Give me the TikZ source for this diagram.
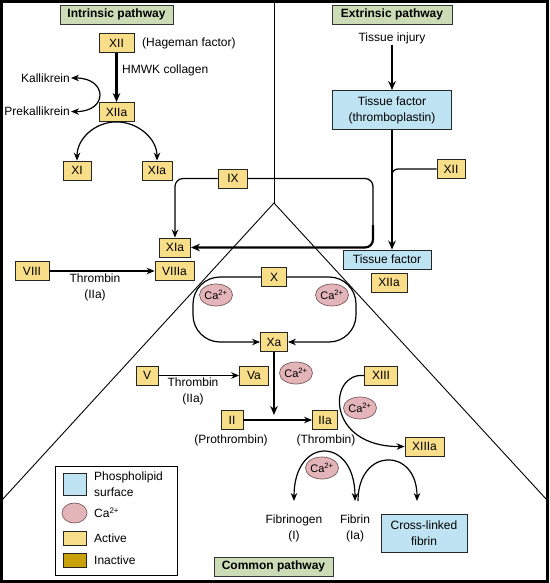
\documentclass[tikz,border=0pt]{standalone}
\usepackage{fontspec}
\setmainfont{Liberation Sans}
\usetikzlibrary{arrows.meta,shapes.geometric,calc}
\definecolor{facY}{HTML}{F9DE8A}
\definecolor{blueF}{HTML}{BEE3F3}
\definecolor{greenH}{HTML}{CCDCB6}
\definecolor{caF}{HTML}{E3B5B8}
\definecolor{caB}{HTML}{7A5A5A}
\definecolor{inact}{HTML}{C9A10A}
\begin{document}
\begin{tikzpicture}[x=1pt,y=-1pt,font=\fontsize{12}{16}\selectfont,
  fac/.style={draw=black!85,line width=0.8pt,fill=facY,minimum height=19pt,inner sep=0pt},
  bluebox/.style={draw=black!85,line width=0.8pt,fill=blueF,inner sep=0pt,align=center},
  hdr/.style={draw=black!80,line width=0.8pt,fill=greenH,minimum height=19pt,inner sep=0pt,font=\fontsize{12}{14}\selectfont\bfseries},
  ca/.style={ellipse,draw=caB,line width=0.7pt,fill=caF,minimum width=31pt,minimum height=22pt,inner sep=0pt,font=\fontsize{11}{12}\selectfont},
  lbl/.style={inner sep=1pt,align=center},
  arr/.style={-{Stealth[length=8pt,width=6.5pt]},line width=1.2pt},
  darr/.style={{Stealth[length=8pt,width=6.5pt]}-{Stealth[length=8pt,width=6.5pt]},line width=1.2pt},
  tarr/.style={-{Stealth[length=9pt,width=7.5pt]},line width=2.2pt}]
\useasboundingbox (0,0) rectangle (549,583);

% frame and pathway separators
\draw[line width=3pt] (1.5,1.5) rectangle (547.5,581.5);
\coordinate (apex) at (274,203);
\coordinate (top) at (274,2);
\coordinate (lb) at (2,500);
\coordinate (rb) at (547,500);
\draw[line width=0.9pt] (top) -- (apex);
\draw[line width=0.9pt] (lb) -- (apex) -- (rb);

% headers
\node[hdr,minimum width=113pt] (hint) at (116.5,14.5) {Intrinsic pathway};
\node[hdr,minimum width=120pt] (hext) at (392,14.5) {Extrinsic pathway};
\node[hdr,minimum width=119pt] (hcom) at (273.5,566.5) {Common pathway};

% intrinsic
\node[fac,minimum width=35pt] (xii) at (116.5,43) {XII};
\node[lbl,anchor=west] (hag) at (141,43) {(Hageman factor)};
\node[fac,minimum width=35pt] (xiia) at (116.5,112) {XIIa};
\node[lbl,anchor=west] (hmwk) at (121,70) {HMWK collagen};
\node[lbl,anchor=east] (kal) at (71,78) {Kallikrein};
\node[lbl,anchor=east] (pkal) at (71,111.5) {Prekallikrein};
\node[fac,minimum width=28pt] (xi) at (77,170.5) {XI};
\node[fac,minimum width=30pt] (xia) at (157,170.5) {XIa};
\node[fac,minimum width=29pt] (ix) at (233,178.5) {IX};
\node[fac,minimum width=31pt] (xia2) at (175,247.5) {XIa};
\node[fac,minimum width=39pt] (viiia) at (174.5,271) {VIIIa};
\node[fac,minimum width=34pt] (viii) at (32,271) {VIII};
\node[lbl] (thr1) at (95,287) {Thrombin\\(IIa)};

\draw[tarr] (xii) -- (xiia);
\draw[darr] (kal.east) .. controls (108,78) and (108,112) .. (pkal.east);
\draw[arr] (xiia.south) .. controls (94.5,122) and (77,139) .. (xi.north);
\draw[arr] (xiia.south) .. controls (138.5,122) and (157,139) .. (xia.north);
\draw[arr,rounded corners=8pt] (ix.west) -| (xia2.north);
\coordinate (ixr) at (373,178.5);
\coordinate (ixm) at (373,225);
\draw[line width=1.3pt,rounded corners=8pt] (ix.east) -- (ixr) -- (ixm);
\draw[tarr,rounded corners=8pt] (ixm) -- (373,247.5) -- (xia2.east);
\draw[arr] (viii) -- (viiia);

% extrinsic
\node[lbl] (tinj) at (392,38) {Tissue injury};
\node[bluebox,minimum width=119pt,minimum height=39pt] (tf) at (392,110) {Tissue factor\\(thromboplastin)};
\node[fac,minimum width=28pt] (xii2) at (451,169) {XII};
\node[bluebox,minimum width=88pt,minimum height=19pt] (tf2) at (387,259.5) {Tissue factor};
\node[fac,minimum width=36pt] (xiia2) at (389,282.5) {XIIa};
\draw[tarr] (tinj) -- (tf);
\draw[tarr] (tf.south) -- (tf.south |- tf2.north);
\draw[line width=1.2pt,rounded corners=6pt] (xii2.west) -- (392,169) -- (392,185);

% common
\node[fac,minimum width=25pt] (x) at (274,277) {X};
\node[fac,minimum width=27pt] (xa) at (274,342) {Xa};
\node[ca] (ca1) at (216,295) {Ca\textsuperscript{2+}};
\node[ca] (ca2) at (332,295) {Ca\textsuperscript{2+}};
\draw[arr,rounded corners=27pt] (x.west) -- (193,277) -- (193,342) -- (xa.west);
\draw[arr,rounded corners=27pt] (x.east) -- (356,277) -- (356,342) -- (xa.east);

\node[fac,minimum width=22pt] (v) at (147,375.5) {V};
\node[fac,minimum width=29pt] (va) at (254,375.5) {Va};
\node[lbl] (thr2) at (193,391.5) {Thrombin\\(IIa)};
\draw[arr] (v) -- (va);

\node[ca] (ca3) at (296,373) {Ca\textsuperscript{2+}};
\node[fac,minimum width=22pt] (ii) at (232,420) {II};
\node[fac,minimum width=25pt] (iia) at (325,420) {IIa};
\node[lbl] (proth) at (231,440) {(Prothrombin)};
\node[lbl] (throm) at (326,440) {(Thrombin)};
\draw[arr] (ii) -- (iia);
\coordinate (xaend) at (274,415);
\draw[tarr] (xa.south) -- (xaend);

\node[fac,minimum width=33pt] (xiii) at (381,375.5) {XIII};
\node[fac,minimum width=39pt] (xiiia) at (424.5,446.5) {XIIIa};
\node[ca] (ca4) at (360,408) {Ca\textsuperscript{2+}};
\draw[arr] (xiii.west) .. controls (328,372) and (325,447) .. (xiiia.west);

\node[ca] (ca5) at (322,468) {Ca\textsuperscript{2+}};
\node[lbl] (fgn) at (294,528) {Fibrinogen\\(I)};
\node[lbl] (fbn) at (355,528) {Fibrin\\(Ia)};
\node[bluebox,minimum width=86pt,minimum height=38pt] (clf) at (424,533) {Cross-linked\\fibrin};
\coordinate (fgnT) at (294,501);
\coordinate (fbnT) at (355,501);
\coordinate (fbnS) at (358,501);
\coordinate (clfT) at (417,501);
\draw[darr] (fgnT) .. controls (294,436) and (355,436) .. (fbnT);
\draw[arr] (fbnS) .. controls (358,447) and (417,447) .. (clfT);

% legend
\draw[line width=1pt] (55,466) rectangle (177,575);
\node[draw=black!85,line width=0.8pt,fill=blueF,minimum width=23pt,minimum height=22pt,inner sep=0pt] (lg1) at (74.5,484) {};
\node[lbl,anchor=west,align=left] (lt1) at (93,484.5) {Phospholipid\\surface};
\node[ca,minimum width=25pt,minimum height=20pt] (lg2) at (74.5,513) {};
\node[lbl,anchor=west] (lt2) at (93,513) {Ca\textsuperscript{2+}};
\node[draw=black!85,line width=0.8pt,fill=facY,minimum width=23pt,minimum height=14pt,inner sep=0pt] (lg3) at (74.5,538) {};
\node[lbl,anchor=west] (lt3) at (93,538) {Active};
\node[draw=black!85,line width=0.8pt,fill=inact,minimum width=23pt,minimum height=14pt,inner sep=0pt] (lg4) at (74.5,560) {};
\node[lbl,anchor=west] (lt4) at (93,560) {Inactive};
\end{tikzpicture}
\end{document}
